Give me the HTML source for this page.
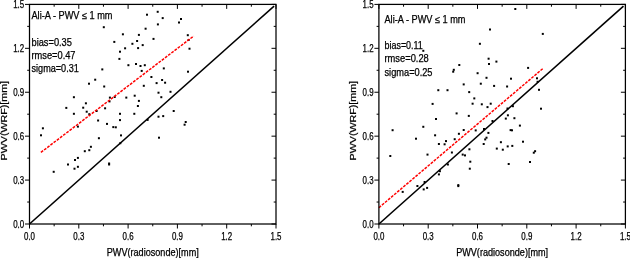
<!DOCTYPE html>
<html><head><meta charset="utf-8"><style>
html,body{margin:0;padding:0;background:#fff;}
body{width:630px;height:258px;overflow:hidden;}
svg{display:block;}
.tt{font-family:'Liberation Sans',Arial,sans-serif;font-size:10px;fill:#000;stroke:#000;stroke-width:0.25px;}
.tl{font-family:'Liberation Sans',Arial,sans-serif;font-size:10px;fill:#000;stroke:#000;stroke-width:0.25px;}
</style></head><body>
<svg width="630" height="258" viewBox="0 0 630 258">
<rect x="146.0" y="13.7" width="2.0" height="2.0"/>
<rect x="102.8" y="26.2" width="2.0" height="2.0"/>
<rect x="144.6" y="27.7" width="2.0" height="2.0"/>
<rect x="121.9" y="33.3" width="2.0" height="2.0"/>
<rect x="137.9" y="33.9" width="2.0" height="2.0"/>
<rect x="113.3" y="40.9" width="2.0" height="2.0"/>
<rect x="131.4" y="42.8" width="2.0" height="2.0"/>
<rect x="136.1" y="40.0" width="2.0" height="2.0"/>
<rect x="141.7" y="44.1" width="2.0" height="2.0"/>
<rect x="137.1" y="47.1" width="2.0" height="2.0"/>
<rect x="124.1" y="47.3" width="2.0" height="2.0"/>
<rect x="156.7" y="10.8" width="2.0" height="2.0"/>
<rect x="161.7" y="17.1" width="2.0" height="2.0"/>
<rect x="180.0" y="18.0" width="2.0" height="2.0"/>
<rect x="178.0" y="21.5" width="2.0" height="2.0"/>
<rect x="156.9" y="23.4" width="2.0" height="2.0"/>
<rect x="186.8" y="34.2" width="2.0" height="2.0"/>
<rect x="187.6" y="39.0" width="2.0" height="2.0"/>
<rect x="152.5" y="37.9" width="2.0" height="2.0"/>
<rect x="188.5" y="47.7" width="2.0" height="2.0"/>
<rect x="119.0" y="50.7" width="2.0" height="2.0"/>
<rect x="118.4" y="57.9" width="2.0" height="2.0"/>
<rect x="127.4" y="64.2" width="2.0" height="2.0"/>
<rect x="135.0" y="63.0" width="2.0" height="2.0"/>
<rect x="139.5" y="65.0" width="2.0" height="2.0"/>
<rect x="143.8" y="64.2" width="2.0" height="2.0"/>
<rect x="140.7" y="69.9" width="2.0" height="2.0"/>
<rect x="101.3" y="68.4" width="2.0" height="2.0"/>
<rect x="94.2" y="78.7" width="2.0" height="2.0"/>
<rect x="88.0" y="82.7" width="2.0" height="2.0"/>
<rect x="103.2" y="85.5" width="2.0" height="2.0"/>
<rect x="142.8" y="84.8" width="2.0" height="2.0"/>
<rect x="162.8" y="67.4" width="2.0" height="2.0"/>
<rect x="187.0" y="70.7" width="2.0" height="2.0"/>
<rect x="150.4" y="76.0" width="2.0" height="2.0"/>
<rect x="161.1" y="79.0" width="2.0" height="2.0"/>
<rect x="164.1" y="81.7" width="2.0" height="2.0"/>
<rect x="155.6" y="82.1" width="2.0" height="2.0"/>
<rect x="157.5" y="91.7" width="2.0" height="2.0"/>
<rect x="169.5" y="90.8" width="2.0" height="2.0"/>
<rect x="72.9" y="96.2" width="2.0" height="2.0"/>
<rect x="108.9" y="96.6" width="2.0" height="2.0"/>
<rect x="113.7" y="96.0" width="2.0" height="2.0"/>
<rect x="125.3" y="96.6" width="2.0" height="2.0"/>
<rect x="133.7" y="94.7" width="2.0" height="2.0"/>
<rect x="137.9" y="99.9" width="2.0" height="2.0"/>
<rect x="136.9" y="105.0" width="2.0" height="2.0"/>
<rect x="108.5" y="100.4" width="2.0" height="2.0"/>
<rect x="84.9" y="102.3" width="2.0" height="2.0"/>
<rect x="65.3" y="106.9" width="2.0" height="2.0"/>
<rect x="82.2" y="106.7" width="2.0" height="2.0"/>
<rect x="104.1" y="107.3" width="2.0" height="2.0"/>
<rect x="85.7" y="110.7" width="2.0" height="2.0"/>
<rect x="88.3" y="113.2" width="2.0" height="2.0"/>
<rect x="95.6" y="110.0" width="2.0" height="2.0"/>
<rect x="72.9" y="112.8" width="2.0" height="2.0"/>
<rect x="119.0" y="112.8" width="2.0" height="2.0"/>
<rect x="133.3" y="112.8" width="2.0" height="2.0"/>
<rect x="97.1" y="119.5" width="2.0" height="2.0"/>
<rect x="119.0" y="119.1" width="2.0" height="2.0"/>
<rect x="106.0" y="122.9" width="2.0" height="2.0"/>
<rect x="112.3" y="126.1" width="2.0" height="2.0"/>
<rect x="114.8" y="126.3" width="2.0" height="2.0"/>
<rect x="76.9" y="125.6" width="2.0" height="2.0"/>
<rect x="41.9" y="127.3" width="2.0" height="2.0"/>
<rect x="40.0" y="134.3" width="2.0" height="2.0"/>
<rect x="120.0" y="134.4" width="2.0" height="2.0"/>
<rect x="97.9" y="137.2" width="2.0" height="2.0"/>
<rect x="160.3" y="96.2" width="2.0" height="2.0"/>
<rect x="172.7" y="110.0" width="2.0" height="2.0"/>
<rect x="157.5" y="115.7" width="2.0" height="2.0"/>
<rect x="162.2" y="115.1" width="2.0" height="2.0"/>
<rect x="146.6" y="118.9" width="2.0" height="2.0"/>
<rect x="184.7" y="121.0" width="2.0" height="2.0"/>
<rect x="183.6" y="123.7" width="2.0" height="2.0"/>
<rect x="158.0" y="136.7" width="2.0" height="2.0"/>
<rect x="89.9" y="145.8" width="2.0" height="2.0"/>
<rect x="88.3" y="149.2" width="2.0" height="2.0"/>
<rect x="83.8" y="150.2" width="2.0" height="2.0"/>
<rect x="76.9" y="156.9" width="2.0" height="2.0"/>
<rect x="74.0" y="159.0" width="2.0" height="2.0"/>
<rect x="67.0" y="163.5" width="2.0" height="2.0"/>
<rect x="76.9" y="165.8" width="2.0" height="2.0"/>
<rect x="73.5" y="167.7" width="2.0" height="2.0"/>
<rect x="52.7" y="170.8" width="2.0" height="2.0"/>
<rect x="108.1" y="162.5" width="2.0" height="2.0"/>
<rect x="108.1" y="163.5" width="2.0" height="2.0"/>
<rect x="119.3" y="142.2" width="2.0" height="2.0"/>
<line x1="29.5" y1="224.0" x2="274.10" y2="6.09" stroke="#000" stroke-width="1.6"/>
<line x1="40.9" y1="152.4" x2="193.7" y2="36.0" stroke="#f00" stroke-width="1.5" stroke-dasharray="2.8 1.2"/>
<path d="M29.50 224.0v4.5 M29.50 4.4v4.5 M29.5 224.00h-4.5 M276.0 224.00h-4.5 M54.15 224.0v2.3 M54.15 4.4v2.3 M29.5 202.04h-2.3 M276.0 202.04h-2.3 M78.80 224.0v4.5 M78.80 4.4v4.5 M29.5 180.08h-4.5 M276.0 180.08h-4.5 M103.45 224.0v2.3 M103.45 4.4v2.3 M29.5 158.12h-2.3 M276.0 158.12h-2.3 M128.10 224.0v4.5 M128.10 4.4v4.5 M29.5 136.16h-4.5 M276.0 136.16h-4.5 M152.75 224.0v2.3 M152.75 4.4v2.3 M29.5 114.20h-2.3 M276.0 114.20h-2.3 M177.40 224.0v4.5 M177.40 4.4v4.5 M29.5 92.24h-4.5 M276.0 92.24h-4.5 M202.05 224.0v2.3 M202.05 4.4v2.3 M29.5 70.28h-2.3 M276.0 70.28h-2.3 M226.70 224.0v4.5 M226.70 4.4v4.5 M29.5 48.32h-4.5 M276.0 48.32h-4.5 M251.35 224.0v2.3 M251.35 4.4v2.3 M29.5 26.36h-2.3 M276.0 26.36h-2.3 M276.00 224.0v4.5 M276.00 4.4v4.5 M29.5 4.40h-4.5 M276.0 4.40h-4.5" stroke="#000" stroke-width="1" fill="none"/>
<rect x="29.5" y="4.4" width="246.5" height="219.6" fill="none" stroke="#000" stroke-width="1.25"/>
<text x="29.50" y="240.0" text-anchor="middle" class="tl" textLength="11.0" lengthAdjust="spacingAndGlyphs">0.0</text>
<text x="24.20" y="227.50" text-anchor="end" class="tl" textLength="11.0" lengthAdjust="spacingAndGlyphs">0.0</text>
<text x="78.80" y="240.0" text-anchor="middle" class="tl" textLength="11.0" lengthAdjust="spacingAndGlyphs">0.3</text>
<text x="24.20" y="183.58" text-anchor="end" class="tl" textLength="11.0" lengthAdjust="spacingAndGlyphs">0.3</text>
<text x="128.10" y="240.0" text-anchor="middle" class="tl" textLength="11.0" lengthAdjust="spacingAndGlyphs">0.6</text>
<text x="24.20" y="139.66" text-anchor="end" class="tl" textLength="11.0" lengthAdjust="spacingAndGlyphs">0.6</text>
<text x="177.40" y="240.0" text-anchor="middle" class="tl" textLength="11.0" lengthAdjust="spacingAndGlyphs">0.9</text>
<text x="24.20" y="95.74" text-anchor="end" class="tl" textLength="11.0" lengthAdjust="spacingAndGlyphs">0.9</text>
<text x="226.70" y="240.0" text-anchor="middle" class="tl" textLength="11.0" lengthAdjust="spacingAndGlyphs">1.2</text>
<text x="24.20" y="51.82" text-anchor="end" class="tl" textLength="11.0" lengthAdjust="spacingAndGlyphs">1.2</text>
<text x="276.00" y="240.0" text-anchor="middle" class="tl" textLength="11.0" lengthAdjust="spacingAndGlyphs">1.5</text>
<text x="24.20" y="7.90" text-anchor="end" class="tl" textLength="11.0" lengthAdjust="spacingAndGlyphs">1.5</text>
<text x="31.5" y="18.8" class="tt" textLength="81" lengthAdjust="spacingAndGlyphs">Ali-A - PWV ≤ 1 mm</text>
<text x="31.5" y="45.5" class="tt" textLength="40.4" lengthAdjust="spacingAndGlyphs">bias=0.35</text>
<text x="31.5" y="58.8" class="tt" textLength="44.0" lengthAdjust="spacingAndGlyphs">rmse=0.47</text>
<text x="31.5" y="72.1" class="tt" textLength="47.3" lengthAdjust="spacingAndGlyphs">sigma=0.31</text>
<text x="152.75" y="256.3" text-anchor="middle" class="tt" textLength="92" lengthAdjust="spacingAndGlyphs">PWV(radiosonde)[mm]</text>
<text transform="translate(6.90,120.7) scale(0.78,1) rotate(-90)" text-anchor="middle" class="tt" style="font-size:10.6px" textLength="79.5" lengthAdjust="spacingAndGlyphs">PWV(WRF)[mm]</text>
<rect x="489.0" y="28.5" width="2.0" height="2.0"/>
<rect x="478.9" y="42.8" width="2.0" height="2.0"/>
<rect x="514.3" y="8.0" width="2.0" height="2.0"/>
<rect x="541.8" y="32.9" width="2.0" height="2.0"/>
<rect x="422.3" y="49.8" width="2.0" height="2.0"/>
<rect x="487.6" y="57.7" width="2.0" height="2.0"/>
<rect x="488.0" y="63.0" width="2.0" height="2.0"/>
<rect x="495.4" y="60.6" width="2.0" height="2.0"/>
<rect x="458.3" y="64.0" width="2.0" height="2.0"/>
<rect x="452.8" y="68.8" width="2.0" height="2.0"/>
<rect x="452.2" y="70.7" width="2.0" height="2.0"/>
<rect x="476.6" y="72.2" width="2.0" height="2.0"/>
<rect x="485.5" y="76.8" width="2.0" height="2.0"/>
<rect x="462.7" y="83.4" width="2.0" height="2.0"/>
<rect x="479.8" y="82.7" width="2.0" height="2.0"/>
<rect x="493.1" y="84.9" width="2.0" height="2.0"/>
<rect x="437.3" y="89.2" width="2.0" height="2.0"/>
<rect x="446.5" y="89.2" width="2.0" height="2.0"/>
<rect x="468.2" y="91.1" width="2.0" height="2.0"/>
<rect x="527.1" y="66.9" width="2.0" height="2.0"/>
<rect x="510.0" y="77.7" width="2.0" height="2.0"/>
<rect x="536.0" y="77.3" width="2.0" height="2.0"/>
<rect x="536.6" y="80.8" width="2.0" height="2.0"/>
<rect x="506.1" y="85.5" width="2.0" height="2.0"/>
<rect x="538.0" y="88.8" width="2.0" height="2.0"/>
<rect x="473.3" y="97.4" width="2.0" height="2.0"/>
<rect x="431.6" y="102.9" width="2.0" height="2.0"/>
<rect x="471.6" y="102.7" width="2.0" height="2.0"/>
<rect x="480.8" y="103.3" width="2.0" height="2.0"/>
<rect x="489.7" y="102.7" width="2.0" height="2.0"/>
<rect x="486.5" y="106.1" width="2.0" height="2.0"/>
<rect x="455.6" y="112.4" width="2.0" height="2.0"/>
<rect x="467.8" y="114.9" width="2.0" height="2.0"/>
<rect x="435.0" y="118.0" width="2.0" height="2.0"/>
<rect x="422.3" y="125.8" width="2.0" height="2.0"/>
<rect x="391.6" y="129.2" width="2.0" height="2.0"/>
<rect x="462.7" y="129.0" width="2.0" height="2.0"/>
<rect x="474.7" y="129.4" width="2.0" height="2.0"/>
<rect x="483.0" y="128.0" width="2.0" height="2.0"/>
<rect x="491.5" y="120.0" width="2.0" height="2.0"/>
<rect x="487.4" y="131.9" width="2.0" height="2.0"/>
<rect x="457.9" y="132.8" width="2.0" height="2.0"/>
<rect x="434.1" y="134.3" width="2.0" height="2.0"/>
<rect x="415.0" y="137.7" width="2.0" height="2.0"/>
<rect x="485.5" y="136.7" width="2.0" height="2.0"/>
<rect x="506.5" y="107.5" width="2.0" height="2.0"/>
<rect x="511.9" y="105.2" width="2.0" height="2.0"/>
<rect x="540.0" y="107.7" width="2.0" height="2.0"/>
<rect x="506.9" y="114.3" width="2.0" height="2.0"/>
<rect x="504.8" y="117.6" width="2.0" height="2.0"/>
<rect x="513.4" y="117.2" width="2.0" height="2.0"/>
<rect x="518.9" y="124.6" width="2.0" height="2.0"/>
<rect x="509.6" y="129.1" width="2.0" height="2.0"/>
<rect x="511.0" y="129.3" width="2.0" height="2.0"/>
<rect x="453.7" y="138.2" width="2.0" height="2.0"/>
<rect x="445.0" y="140.1" width="2.0" height="2.0"/>
<rect x="437.9" y="143.0" width="2.0" height="2.0"/>
<rect x="443.6" y="143.3" width="2.0" height="2.0"/>
<rect x="482.7" y="143.0" width="2.0" height="2.0"/>
<rect x="389.3" y="155.0" width="2.0" height="2.0"/>
<rect x="426.5" y="153.6" width="2.0" height="2.0"/>
<rect x="450.9" y="151.5" width="2.0" height="2.0"/>
<rect x="468.4" y="148.3" width="2.0" height="2.0"/>
<rect x="461.7" y="153.6" width="2.0" height="2.0"/>
<rect x="464.0" y="154.4" width="2.0" height="2.0"/>
<rect x="495.8" y="147.6" width="2.0" height="2.0"/>
<rect x="469.3" y="160.7" width="2.0" height="2.0"/>
<rect x="446.9" y="163.5" width="2.0" height="2.0"/>
<rect x="468.8" y="167.7" width="2.0" height="2.0"/>
<rect x="438.9" y="170.2" width="2.0" height="2.0"/>
<rect x="437.9" y="173.4" width="2.0" height="2.0"/>
<rect x="423.6" y="181.0" width="2.0" height="2.0"/>
<rect x="499.9" y="141.2" width="2.0" height="2.0"/>
<rect x="522.0" y="140.7" width="2.0" height="2.0"/>
<rect x="501.8" y="148.7" width="2.0" height="2.0"/>
<rect x="506.7" y="145.4" width="2.0" height="2.0"/>
<rect x="511.3" y="144.9" width="2.0" height="2.0"/>
<rect x="534.1" y="150.2" width="2.0" height="2.0"/>
<rect x="532.8" y="151.7" width="2.0" height="2.0"/>
<rect x="507.7" y="163.0" width="2.0" height="2.0"/>
<rect x="529.0" y="161.0" width="2.0" height="2.0"/>
<rect x="484.2" y="138.4" width="2.0" height="2.0"/>
<rect x="416.4" y="185.0" width="2.0" height="2.0"/>
<rect x="422.7" y="188.4" width="2.0" height="2.0"/>
<rect x="426.1" y="186.9" width="2.0" height="2.0"/>
<rect x="401.7" y="190.9" width="2.0" height="2.0"/>
<rect x="457.3" y="184.1" width="2.0" height="2.0"/>
<rect x="457.3" y="185.1" width="2.0" height="2.0"/>
<line x1="378.9" y1="224.0" x2="623.50" y2="6.09" stroke="#000" stroke-width="1.6"/>
<line x1="378.9" y1="207.7" x2="542.8" y2="68.6" stroke="#f00" stroke-width="1.5" stroke-dasharray="2.8 1.2"/>
<path d="M378.90 224.0v4.5 M378.90 4.4v4.5 M378.9 224.00h-4.5 M625.4 224.00h-4.5 M403.55 224.0v2.3 M403.55 4.4v2.3 M378.9 202.04h-2.3 M625.4 202.04h-2.3 M428.20 224.0v4.5 M428.20 4.4v4.5 M378.9 180.08h-4.5 M625.4 180.08h-4.5 M452.85 224.0v2.3 M452.85 4.4v2.3 M378.9 158.12h-2.3 M625.4 158.12h-2.3 M477.50 224.0v4.5 M477.50 4.4v4.5 M378.9 136.16h-4.5 M625.4 136.16h-4.5 M502.15 224.0v2.3 M502.15 4.4v2.3 M378.9 114.20h-2.3 M625.4 114.20h-2.3 M526.80 224.0v4.5 M526.80 4.4v4.5 M378.9 92.24h-4.5 M625.4 92.24h-4.5 M551.45 224.0v2.3 M551.45 4.4v2.3 M378.9 70.28h-2.3 M625.4 70.28h-2.3 M576.10 224.0v4.5 M576.10 4.4v4.5 M378.9 48.32h-4.5 M625.4 48.32h-4.5 M600.75 224.0v2.3 M600.75 4.4v2.3 M378.9 26.36h-2.3 M625.4 26.36h-2.3 M625.40 224.0v4.5 M625.40 4.4v4.5 M378.9 4.40h-4.5 M625.4 4.40h-4.5" stroke="#000" stroke-width="1" fill="none"/>
<rect x="378.9" y="4.4" width="246.5" height="219.6" fill="none" stroke="#000" stroke-width="1.25"/>
<text x="378.90" y="240.0" text-anchor="middle" class="tl" textLength="11.0" lengthAdjust="spacingAndGlyphs">0.0</text>
<text x="373.60" y="227.50" text-anchor="end" class="tl" textLength="11.0" lengthAdjust="spacingAndGlyphs">0.0</text>
<text x="428.20" y="240.0" text-anchor="middle" class="tl" textLength="11.0" lengthAdjust="spacingAndGlyphs">0.3</text>
<text x="373.60" y="183.58" text-anchor="end" class="tl" textLength="11.0" lengthAdjust="spacingAndGlyphs">0.3</text>
<text x="477.50" y="240.0" text-anchor="middle" class="tl" textLength="11.0" lengthAdjust="spacingAndGlyphs">0.6</text>
<text x="373.60" y="139.66" text-anchor="end" class="tl" textLength="11.0" lengthAdjust="spacingAndGlyphs">0.6</text>
<text x="526.80" y="240.0" text-anchor="middle" class="tl" textLength="11.0" lengthAdjust="spacingAndGlyphs">0.9</text>
<text x="373.60" y="95.74" text-anchor="end" class="tl" textLength="11.0" lengthAdjust="spacingAndGlyphs">0.9</text>
<text x="576.10" y="240.0" text-anchor="middle" class="tl" textLength="11.0" lengthAdjust="spacingAndGlyphs">1.2</text>
<text x="373.60" y="51.82" text-anchor="end" class="tl" textLength="11.0" lengthAdjust="spacingAndGlyphs">1.2</text>
<text x="625.40" y="240.0" text-anchor="middle" class="tl" textLength="11.0" lengthAdjust="spacingAndGlyphs">1.5</text>
<text x="373.60" y="7.90" text-anchor="end" class="tl" textLength="11.0" lengthAdjust="spacingAndGlyphs">1.5</text>
<text x="384.5" y="22.8" class="tt" textLength="81" lengthAdjust="spacingAndGlyphs">Ali-A - PWV ≤ 1 mm</text>
<text x="384.5" y="49.0" class="tt" textLength="38.3" lengthAdjust="spacingAndGlyphs">bias=0.11</text>
<text x="384.5" y="62.3" class="tt" textLength="44.3" lengthAdjust="spacingAndGlyphs">rmse=0.28</text>
<text x="384.5" y="75.6" class="tt" textLength="48.0" lengthAdjust="spacingAndGlyphs">sigma=0.25</text>
<text x="502.15" y="256.3" text-anchor="middle" class="tt" textLength="92" lengthAdjust="spacingAndGlyphs">PWV(radiosonde)[mm]</text>
<text transform="translate(356.30,120.7) scale(0.78,1) rotate(-90)" text-anchor="middle" class="tt" style="font-size:10.6px" textLength="79.5" lengthAdjust="spacingAndGlyphs">PWV(WRF)[mm]</text>
</svg>
</body></html>
